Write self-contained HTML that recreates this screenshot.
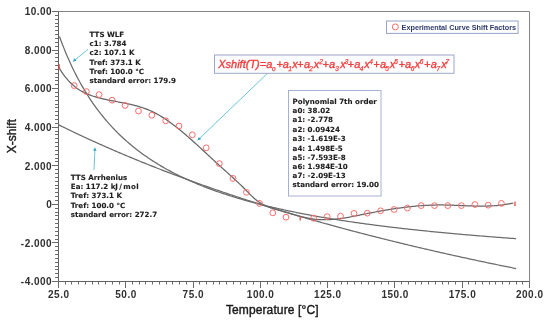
<!DOCTYPE html>
<html><head><meta charset="utf-8"><style>
html,body{margin:0;padding:0;background:#fff;width:550px;height:320px;overflow:hidden}
svg{display:block}
.ax{font-family:"Liberation Sans",Arial,sans-serif;font-weight:bold;font-size:10px;letter-spacing:0.5px;fill:#303030}
.ttl{font-family:"Liberation Sans",Arial,sans-serif;font-weight:normal;font-size:11.5px;fill:#1a1a1a;stroke:#1a1a1a;stroke-width:0.4px}
.blk{font-family:"DejaVu Sans",Verdana,sans-serif;font-weight:bold;font-size:7.1px;fill:#1e1e1e;stroke:#1e1e1e;stroke-width:0.12px}
.eq{font-family:"Liberation Sans",Arial,sans-serif;font-style:italic;font-size:11px;fill:#f53c3c;stroke:#f53c3c;stroke-width:0.35px}
.eq .sm{font-size:6.5px;stroke-width:0.25px}
.leg{font-family:"Liberation Sans",Arial,sans-serif;font-weight:bold;font-size:7.25px;fill:#2d3a6a}
</style></head><body>
<svg width="550" height="320" viewBox="0 0 550 320">
<rect width="550" height="320" fill="#fff"/>
<!-- frame -->
<path d="M58.5,11.5H529.5V281.5" fill="none" stroke="#858585" stroke-width="1"/><path d="M529.5,281.5H58.5V11.5" fill="none" stroke="#606060" stroke-width="1"/>
<path d="M52,281.50H58.5M55,277.50H58.5M55,273.50H58.5M55,269.50H58.5M55,266.50H58.5M55,262.50H58.5M55,258.50H58.5M55,254.50H58.5M55,250.50H58.5M55,246.50H58.5M52,242.50H58.5M55,239.50H58.5M55,235.50H58.5M55,231.50H58.5M55,227.50H58.5M55,223.50H58.5M55,219.50H58.5M55,215.50H58.5M55,212.50H58.5M55,208.50H58.5M52,204.50H58.5M55,200.50H58.5M55,196.50H58.5M55,192.50H58.5M55,188.50H58.5M55,185.50H58.5M55,181.50H58.5M55,177.50H58.5M55,173.50H58.5M55,169.50H58.5M52,165.50H58.5M55,161.50H58.5M55,158.50H58.5M55,154.50H58.5M55,150.50H58.5M55,146.50H58.5M55,142.50H58.5M55,138.50H58.5M55,134.50H58.5M55,131.50H58.5M52,127.50H58.5M55,123.50H58.5M55,119.50H58.5M55,115.50H58.5M55,111.50H58.5M55,107.50H58.5M55,104.50H58.5M55,100.50H58.5M55,96.50H58.5M55,92.50H58.5M52,88.50H58.5M55,84.50H58.5M55,80.50H58.5M55,77.50H58.5M55,73.50H58.5M55,69.50H58.5M55,65.50H58.5M55,61.50H58.5M55,57.50H58.5M55,53.50H58.5M52,50.50H58.5M55,46.50H58.5M55,42.50H58.5M55,38.50H58.5M55,34.50H58.5M55,30.50H58.5M55,26.50H58.5M55,23.50H58.5M55,19.50H58.5M55,15.50H58.5M52,11.50H58.5M58.50,281.5V288M65.50,281.5V284.5M71.50,281.5V284.5M78.50,281.5V284.5M85.50,281.5V284.5M92.50,281.5V284.5M98.50,281.5V284.5M105.50,281.5V284.5M112.50,281.5V284.5M119.50,281.5V284.5M125.50,281.5V288M132.50,281.5V284.5M139.50,281.5V284.5M145.50,281.5V284.5M152.50,281.5V284.5M159.50,281.5V284.5M166.50,281.5V284.5M172.50,281.5V284.5M179.50,281.5V284.5M186.50,281.5V284.5M193.50,281.5V288M199.50,281.5V284.5M206.50,281.5V284.5M213.50,281.5V284.5M219.50,281.5V284.5M226.50,281.5V284.5M233.50,281.5V284.5M240.50,281.5V284.5M246.50,281.5V284.5M253.50,281.5V284.5M260.50,281.5V288M267.50,281.5V284.5M273.50,281.5V284.5M280.50,281.5V284.5M287.50,281.5V284.5M294.50,281.5V284.5M300.50,281.5V284.5M307.50,281.5V284.5M314.50,281.5V284.5M320.50,281.5V284.5M327.50,281.5V288M334.50,281.5V284.5M341.50,281.5V284.5M347.50,281.5V284.5M354.50,281.5V284.5M361.50,281.5V284.5M368.50,281.5V284.5M374.50,281.5V284.5M381.50,281.5V284.5M388.50,281.5V284.5M394.50,281.5V288M401.50,281.5V284.5M408.50,281.5V284.5M415.50,281.5V284.5M421.50,281.5V284.5M428.50,281.5V284.5M435.50,281.5V284.5M442.50,281.5V284.5M448.50,281.5V284.5M455.50,281.5V284.5M462.50,281.5V288M468.50,281.5V284.5M475.50,281.5V284.5M482.50,281.5V284.5M489.50,281.5V284.5M495.50,281.5V284.5M502.50,281.5V284.5M509.50,281.5V284.5M516.50,281.5V284.5M522.50,281.5V284.5M529.50,281.5V288" stroke="#6a6a6a" stroke-width="1" fill="none"/>
<g class="ax">
<text x="52.2" y="15.30" text-anchor="end">10.00</text>
<text x="52.2" y="53.87" text-anchor="end">8.000</text>
<text x="52.2" y="92.44" text-anchor="end">6.000</text>
<text x="52.2" y="131.01" text-anchor="end">4.000</text>
<text x="52.2" y="169.59" text-anchor="end">2.000</text>
<text x="52.2" y="208.16" text-anchor="end">0</text>
<text x="52.2" y="246.73" text-anchor="end">-2.000</text>
<text x="52.2" y="285.30" text-anchor="end">-4.000</text>
<text x="58.75" y="297.9" text-anchor="middle">25.0</text>
<text x="126.04" y="297.9" text-anchor="middle">50.0</text>
<text x="193.32" y="297.9" text-anchor="middle">75.0</text>
<text x="260.61" y="297.9" text-anchor="middle">100.0</text>
<text x="327.89" y="297.9" text-anchor="middle">125.0</text>
<text x="395.18" y="297.9" text-anchor="middle">150.0</text>
<text x="462.46" y="297.9" text-anchor="middle">175.0</text>
<text x="529.75" y="297.9" text-anchor="middle">200.0</text>
</g>
<text class="ttl" x="225.9" y="313.6" style="font-size:12px;letter-spacing:0.12px">Temperature [°C]</text>
<text class="ttl" transform="translate(15.6,153.2) rotate(-90)" x="0" y="0" style="font-size:12px">X-shift</text>
<!-- curves -->
<g fill="none" stroke="#6c6c6c" stroke-width="1.25">
<polyline points="59.44,36.48 59.85,37.58 61.19,41.21 62.54,44.72 63.88,48.13 65.23,51.44 66.57,54.66 67.92,57.79 69.27,60.83 70.61,63.79 71.96,66.66 73.30,69.47 74.65,72.19 75.99,74.85 77.34,77.44 78.69,79.96 80.03,82.43 81.38,84.83 82.72,87.17 84.07,89.45 85.41,91.68 86.76,93.86 88.11,95.99 89.45,98.07 90.80,100.10 92.14,102.09 93.49,104.03 94.83,105.93 96.18,107.79 97.53,109.61 98.87,111.39 100.22,113.14 101.56,114.84 102.91,116.51 104.25,118.15 105.60,119.76 106.95,121.33 108.29,122.87 109.64,124.38 110.98,125.86 112.33,127.32 113.67,128.74 115.02,130.14 116.37,131.52 117.71,132.86 119.06,134.19 120.40,135.49 121.75,136.76 123.09,138.01 124.44,139.25 125.79,140.45 127.13,141.64 128.48,142.81 129.82,143.96 131.17,145.09 132.51,146.20 133.86,147.29 135.21,148.36 136.55,149.42 137.90,150.45 139.24,151.48 140.59,152.48 141.93,153.47 143.28,154.44 144.63,155.40 145.97,156.35 147.32,157.28 148.66,158.19 150.01,159.09 151.35,159.98 152.70,160.85 154.05,161.72 155.39,162.56 156.74,163.40 158.08,164.22 159.43,165.04 160.77,165.84 162.12,166.63 163.47,167.41 164.81,168.17 166.16,168.93 167.50,169.68 168.85,170.41 170.19,171.14 171.54,171.86 172.89,172.56 174.23,173.26 175.58,173.95 176.92,174.63 178.27,175.30 179.61,175.96 180.96,176.61 182.31,177.26 183.65,177.90 185.00,178.52 186.34,179.15 187.69,179.76 189.03,180.36 190.38,180.96 191.73,181.55 193.07,182.14 194.42,182.71 195.76,183.28 197.11,183.84 198.45,184.40 199.80,184.95 201.15,185.49 202.49,186.03 203.84,186.56 205.18,187.08 206.53,187.60 207.87,188.11 209.22,188.62 210.57,189.12 211.91,189.61 213.26,190.10 214.60,190.59 215.95,191.07 217.29,191.54 218.64,192.01 219.99,192.47 221.33,192.93 222.68,193.38 224.02,193.83 225.37,194.28 226.71,194.71 228.06,195.15 229.41,195.58 230.75,196.00 232.10,196.42 233.44,196.84 234.79,197.25 236.13,197.66 237.48,198.07 238.83,198.47 240.17,198.86 241.52,199.25 242.86,199.64 244.21,200.03 245.55,200.41 246.90,200.78 248.25,201.16 249.59,201.53 250.94,201.89 252.28,202.25 253.63,202.61 254.97,202.97 256.32,203.32 257.67,203.67 259.01,204.01 260.36,204.36 261.70,204.70 263.05,205.03 264.39,205.37 265.74,205.69 267.09,206.02 268.43,206.35 269.78,206.67 271.12,206.98 272.47,207.30 273.81,207.61 275.16,207.92 276.51,208.23 277.85,208.53 279.20,208.83 280.54,209.13 281.89,209.43 283.23,209.72 284.58,210.01 285.93,210.30 287.27,210.59 288.62,210.87 289.96,211.15 291.31,211.43 292.65,211.71 294.00,211.98 295.35,212.26 296.69,212.53 298.04,212.79 299.38,213.06 300.73,213.32 302.07,213.58 303.42,213.84 304.77,214.10 306.11,214.35 307.46,214.61 308.80,214.86 310.15,215.11 311.49,215.35 312.84,215.60 314.19,215.84 315.53,216.08 316.88,216.32 318.22,216.56 319.57,216.79 320.91,217.03 322.26,217.26 323.61,217.49 324.95,217.72 326.30,217.94 327.64,218.17 328.99,218.39 330.33,218.61 331.68,218.83 333.03,219.05 334.37,219.27 335.72,219.48 337.06,219.70 338.41,219.91 339.75,220.12 341.10,220.33 342.45,220.53 343.79,220.74 345.14,220.94 346.48,221.15 347.83,221.35 349.17,221.55 350.52,221.75 351.87,221.94 353.21,222.14 354.56,222.33 355.90,222.52 357.25,222.72 358.59,222.91 359.94,223.10 361.29,223.28 362.63,223.47 363.98,223.65 365.32,223.84 366.67,224.02 368.01,224.20 369.36,224.38 370.71,224.56 372.05,224.74 373.40,224.91 374.74,225.09 376.09,225.26 377.43,225.44 378.78,225.61 380.13,225.78 381.47,225.95 382.82,226.12 384.16,226.28 385.51,226.45 386.85,226.61 388.20,226.78 389.55,226.94 390.89,227.10 392.24,227.26 393.58,227.42 394.93,227.58 396.27,227.74 397.62,227.90 398.97,228.05 400.31,228.21 401.66,228.36 403.00,228.52 404.35,228.67 405.69,228.82 407.04,228.97 408.39,229.12 409.73,229.27 411.08,229.41 412.42,229.56 413.77,229.71 415.11,229.85 416.46,229.99 417.81,230.14 419.15,230.28 420.50,230.42 421.84,230.56 423.19,230.70 424.53,230.84 425.88,230.98 427.23,231.11 428.57,231.25 429.92,231.39 431.26,231.52 432.61,231.65 433.95,231.79 435.30,231.92 436.65,232.05 437.99,232.18 439.34,232.31 440.68,232.44 442.03,232.57 443.37,232.70 444.72,232.82 446.07,232.95 447.41,233.08 448.76,233.20 450.10,233.33 451.45,233.45 452.79,233.57 454.14,233.69 455.49,233.82 456.83,233.94 458.18,234.06 459.52,234.18 460.87,234.30 462.21,234.41 463.56,234.53 464.91,234.65 466.25,234.76 467.60,234.88 468.94,234.99 470.29,235.11 471.63,235.22 472.98,235.34 474.33,235.45 475.67,235.56 477.02,235.67 478.36,235.78 479.71,235.89 481.05,236.00 482.40,236.11 483.75,236.22 485.09,236.33 486.44,236.44 487.78,236.54 489.13,236.65 490.47,236.75 491.82,236.86 493.17,236.96 494.51,237.07 495.86,237.17 497.20,237.27 498.55,237.38 499.89,237.48 501.24,237.58 502.59,237.68 503.93,237.78 505.28,237.88 506.62,237.98 507.97,238.08 509.31,238.18 510.66,238.27 512.01,238.37 513.35,238.47 514.70,238.57 516.04,238.66"/>
<polyline points="58.50,124.76 59.85,125.43 61.19,126.09 62.54,126.75 63.88,127.40 65.23,128.06 66.57,128.71 67.92,129.36 69.27,130.01 70.61,130.65 71.96,131.29 73.30,131.94 74.65,132.58 75.99,133.21 77.34,133.85 78.69,134.48 80.03,135.11 81.38,135.74 82.72,136.37 84.07,136.99 85.41,137.61 86.76,138.23 88.11,138.85 89.45,139.47 90.80,140.08 92.14,140.70 93.49,141.31 94.83,141.92 96.18,142.52 97.53,143.13 98.87,143.73 100.22,144.33 101.56,144.93 102.91,145.53 104.25,146.12 105.60,146.72 106.95,147.31 108.29,147.90 109.64,148.49 110.98,149.07 112.33,149.66 113.67,150.24 115.02,150.82 116.37,151.40 117.71,151.98 119.06,152.55 120.40,153.12 121.75,153.70 123.09,154.27 124.44,154.83 125.79,155.40 127.13,155.96 128.48,156.53 129.82,157.09 131.17,157.65 132.51,158.20 133.86,158.76 135.21,159.31 136.55,159.87 137.90,160.42 139.24,160.97 140.59,161.51 141.93,162.06 143.28,162.60 144.63,163.15 145.97,163.69 147.32,164.23 148.66,164.76 150.01,165.30 151.35,165.83 152.70,166.37 154.05,166.90 155.39,167.43 156.74,167.96 158.08,168.48 159.43,169.01 160.77,169.53 162.12,170.05 163.47,170.57 164.81,171.09 166.16,171.61 167.50,172.12 168.85,172.64 170.19,173.15 171.54,173.66 172.89,174.17 174.23,174.68 175.58,175.18 176.92,175.69 178.27,176.19 179.61,176.69 180.96,177.20 182.31,177.69 183.65,178.19 185.00,178.69 186.34,179.18 187.69,179.68 189.03,180.17 190.38,180.66 191.73,181.15 193.07,181.64 194.42,182.12 195.76,182.61 197.11,183.09 198.45,183.57 199.80,184.05 201.15,184.53 202.49,185.01 203.84,185.49 205.18,185.96 206.53,186.44 207.87,186.91 209.22,187.38 210.57,187.85 211.91,188.32 213.26,188.79 214.60,189.25 215.95,189.72 217.29,190.18 218.64,190.64 219.99,191.11 221.33,191.56 222.68,192.02 224.02,192.48 225.37,192.94 226.71,193.39 228.06,193.84 229.41,194.30 230.75,194.75 232.10,195.20 233.44,195.64 234.79,196.09 236.13,196.54 237.48,196.98 238.83,197.42 240.17,197.87 241.52,198.31 242.86,198.75 244.21,199.19 245.55,199.62 246.90,200.06 248.25,200.49 249.59,200.93 250.94,201.36 252.28,201.79 253.63,202.22 254.97,202.65 256.32,203.08 257.67,203.51 259.01,203.93 260.36,204.36 261.70,204.78 263.05,205.20 264.39,205.62 265.74,206.04 267.09,206.46 268.43,206.88 269.78,207.30 271.12,207.71 272.47,208.13 273.81,208.54 275.16,208.95 276.51,209.36 277.85,209.77 279.20,210.18 280.54,210.59 281.89,211.00 283.23,211.40 284.58,211.81 285.93,212.21 287.27,212.62 288.62,213.02 289.96,213.42 291.31,213.82 292.65,214.22 294.00,214.61 295.35,215.01 296.69,215.40 298.04,215.80 299.38,216.19 300.73,216.58 302.07,216.98 303.42,217.37 304.77,217.76 306.11,218.14 307.46,218.53 308.80,218.92 310.15,219.30 311.49,219.69 312.84,220.07 314.19,220.45 315.53,220.83 316.88,221.22 318.22,221.59 319.57,221.97 320.91,222.35 322.26,222.73 323.61,223.10 324.95,223.48 326.30,223.85 327.64,224.22 328.99,224.60 330.33,224.97 331.68,225.34 333.03,225.71 334.37,226.08 335.72,226.44 337.06,226.81 338.41,227.17 339.75,227.54 341.10,227.90 342.45,228.27 343.79,228.63 345.14,228.99 346.48,229.35 347.83,229.71 349.17,230.07 350.52,230.42 351.87,230.78 353.21,231.14 354.56,231.49 355.90,231.84 357.25,232.20 358.59,232.55 359.94,232.90 361.29,233.25 362.63,233.60 363.98,233.95 365.32,234.30 366.67,234.65 368.01,234.99 369.36,235.34 370.71,235.68 372.05,236.03 373.40,236.37 374.74,236.71 376.09,237.05 377.43,237.39 378.78,237.73 380.13,238.07 381.47,238.41 382.82,238.75 384.16,239.08 385.51,239.42 386.85,239.75 388.20,240.09 389.55,240.42 390.89,240.75 392.24,241.08 393.58,241.41 394.93,241.74 396.27,242.07 397.62,242.40 398.97,242.73 400.31,243.06 401.66,243.38 403.00,243.71 404.35,244.03 405.69,244.36 407.04,244.68 408.39,245.00 409.73,245.33 411.08,245.65 412.42,245.97 413.77,246.29 415.11,246.60 416.46,246.92 417.81,247.24 419.15,247.56 420.50,247.87 421.84,248.19 423.19,248.50 424.53,248.81 425.88,249.13 427.23,249.44 428.57,249.75 429.92,250.06 431.26,250.37 432.61,250.68 433.95,250.99 435.30,251.30 436.65,251.60 437.99,251.91 439.34,252.22 440.68,252.52 442.03,252.83 443.37,253.13 444.72,253.43 446.07,253.74 447.41,254.04 448.76,254.34 450.10,254.64 451.45,254.94 452.79,255.24 454.14,255.53 455.49,255.83 456.83,256.13 458.18,256.43 459.52,256.72 460.87,257.02 462.21,257.31 463.56,257.60 464.91,257.90 466.25,258.19 467.60,258.48 468.94,258.77 470.29,259.06 471.63,259.35 472.98,259.64 474.33,259.93 475.67,260.22 477.02,260.50 478.36,260.79 479.71,261.08 481.05,261.36 482.40,261.65 483.75,261.93 485.09,262.21 486.44,262.50 487.78,262.78 489.13,263.06 490.47,263.34 491.82,263.62 493.17,263.90 494.51,264.18 495.86,264.46 497.20,264.74 498.55,265.01 499.89,265.29 501.24,265.57 502.59,265.84 503.93,266.12 505.28,266.39 506.62,266.67 507.97,266.94 509.31,267.21 510.66,267.48 512.01,267.75 513.35,268.03 514.70,268.30 516.04,268.57"/>
<polyline points="58.80,67.41 60.30,69.84 61.80,72.12 63.30,74.26 64.80,76.27 66.30,78.15 67.80,79.91 69.30,81.55 70.80,83.07 72.30,84.49 73.80,85.81 75.30,87.04 76.80,88.17 78.30,89.22 79.80,90.18 81.30,91.08 82.80,91.90 84.30,92.67 85.80,93.37 87.30,94.02 88.80,94.63 90.30,95.19 91.80,95.72 93.30,96.22 94.80,96.69 96.30,97.14 97.80,97.56 99.30,97.97 100.80,98.35 102.30,98.72 103.80,99.07 105.30,99.40 106.80,99.73 108.30,100.04 109.80,100.34 111.30,100.63 112.80,100.92 114.30,101.20 115.80,101.48 117.30,101.76 118.80,102.04 120.30,102.32 121.80,102.60 123.30,102.89 124.80,103.18 126.30,103.48 127.80,103.79 129.30,104.12 130.80,104.45 132.30,104.80 133.80,105.17 135.30,105.55 136.80,105.95 138.30,106.37 139.80,106.82 141.30,107.29 142.80,107.78 144.30,108.31 145.80,108.86 147.30,109.44 148.80,110.05 150.30,110.70 151.80,111.38 153.30,112.10 154.80,112.86 156.30,113.65 157.80,114.47 159.30,115.33 160.80,116.22 162.30,117.15 163.80,118.10 165.30,119.08 166.80,120.09 168.30,121.12 169.80,122.19 171.30,123.28 172.80,124.39 174.30,125.52 175.80,126.68 177.30,127.86 178.80,129.06 180.30,130.28 181.80,131.51 183.30,132.77 184.80,134.04 186.30,135.32 187.80,136.62 189.30,137.93 190.80,139.26 192.30,140.59 193.80,141.94 195.30,143.30 196.80,144.66 198.30,146.03 199.80,147.41 201.30,148.79 202.80,150.17 204.30,151.56 205.80,152.95 207.30,154.35 208.80,155.74 210.30,157.13 211.80,158.52 213.30,159.91 214.80,161.29 216.30,162.67 217.80,164.04 219.30,165.40 220.80,166.76 222.30,168.11 223.80,169.46 225.30,170.80 226.80,172.15 228.30,173.50 229.80,174.85 231.30,176.21 232.80,177.57 234.30,178.95 235.80,180.34 237.30,181.74 238.80,183.16 240.30,184.60 241.80,186.05 243.30,187.53 244.80,189.04 246.30,190.57 247.80,192.10 249.30,193.63 250.80,195.13 252.30,196.58 253.80,197.95 255.30,199.25 256.80,200.46 258.30,201.59 259.80,202.62 261.30,203.56 262.80,204.41 264.30,205.19 265.80,205.89 267.30,206.54 268.80,207.12 270.30,207.66 271.80,208.16 273.30,208.63 274.80,209.07 276.30,209.50 277.80,209.92 279.30,210.33 280.80,210.76 282.30,211.19 283.80,211.62 285.30,212.07 286.80,212.51 288.30,212.96 289.80,213.41 291.30,213.85 292.80,214.30 294.30,214.73 295.80,215.16 297.30,215.58 298.80,215.99 300.30,216.39 301.80,216.77 303.30,217.13 304.80,217.48 306.30,217.81 307.80,218.12 309.30,218.40 310.80,218.66 312.30,218.89 313.80,219.09 315.30,219.27 316.80,219.41 318.30,219.53 319.80,219.61 321.30,219.67 322.80,219.71 324.30,219.72 325.80,219.71 327.30,219.67 328.80,219.61 330.30,219.53 331.80,219.44 333.30,219.32 334.80,219.18 336.30,219.03 337.80,218.86 339.30,218.67 340.80,218.47 342.30,218.26 343.80,218.03 345.30,217.79 346.80,217.55 348.30,217.29 349.80,217.02 351.30,216.74 352.80,216.46 354.30,216.17 355.80,215.88 357.30,215.58 358.80,215.28 360.30,214.98 361.80,214.67 363.30,214.37 364.80,214.06 366.30,213.76 367.80,213.46 369.30,213.16 370.80,212.86 372.30,212.57 373.80,212.28 375.30,212.00 376.80,211.71 378.30,211.44 379.80,211.16 381.30,210.89 382.80,210.63 384.30,210.37 385.80,210.11 387.30,209.86 388.80,209.61 390.30,209.37 391.80,209.13 393.30,208.90 394.80,208.67 396.30,208.45 397.80,208.24 399.30,208.03 400.80,207.82 402.30,207.62 403.80,207.43 405.30,207.25 406.80,207.07 408.30,206.89 409.80,206.72 411.30,206.56 412.80,206.41 414.30,206.26 415.80,206.13 417.30,205.99 418.80,205.87 420.30,205.75 421.80,205.64 423.30,205.54 424.80,205.45 426.30,205.36 427.80,205.28 429.30,205.21 430.80,205.15 432.30,205.10 433.80,205.06 435.30,205.02 436.80,204.99 438.30,204.98 439.80,204.97 441.30,204.97 442.80,204.98 444.30,205.00 445.80,205.02 447.30,205.06 448.80,205.09 450.30,205.14 451.80,205.19 453.30,205.24 454.80,205.30 456.30,205.35 457.80,205.41 459.30,205.48 460.80,205.54 462.30,205.60 463.80,205.67 465.30,205.73 466.80,205.79 468.30,205.84 469.80,205.90 471.30,205.94 472.80,205.99 474.30,206.03 475.80,206.06 477.30,206.09 478.80,206.11 480.30,206.12 481.80,206.12 483.30,206.12 484.80,206.10 486.30,206.07 487.80,206.03 489.30,205.98 490.80,205.92 492.30,205.84 493.80,205.75 495.30,205.65 496.80,205.53 498.30,205.39 499.80,205.24 501.30,205.07 502.80,204.88 504.30,204.67 505.80,204.44 507.30,204.20 508.80,203.93 510.30,203.64 511.80,203.33 513.30,203.00" stroke="#666"/>
</g>
<g fill="none" stroke="#ff6b6b" stroke-width="1">
<circle cx="74.2" cy="85.6" r="2.9"/>
<circle cx="86.4" cy="91.6" r="2.9"/>
<circle cx="99.1" cy="94.6" r="2.9"/>
<circle cx="112.1" cy="100.2" r="2.9"/>
<circle cx="125.1" cy="105.5" r="2.9"/>
<circle cx="138.5" cy="111" r="2.9"/>
<circle cx="151.8" cy="115.2" r="2.9"/>
<circle cx="165.7" cy="120.8" r="2.9"/>
<circle cx="179" cy="126" r="2.9"/>
<circle cx="192.3" cy="134.8" r="2.9"/>
<circle cx="206.2" cy="147.8" r="2.9"/>
<circle cx="219.3" cy="163.6" r="2.9"/>
<circle cx="233" cy="178.4" r="2.9"/>
<circle cx="246.4" cy="192.3" r="2.9"/>
<circle cx="259.5" cy="203.4" r="2.9"/>
<circle cx="272.8" cy="212.8" r="2.9"/>
<circle cx="286" cy="217.2" r="2.9"/>
<circle cx="313.6" cy="218.2" r="2.9"/>
<circle cx="327.2" cy="216.7" r="2.9"/>
<circle cx="340.5" cy="216.2" r="2.9"/>
<circle cx="354" cy="213.4" r="2.9"/>
<circle cx="367.3" cy="213.2" r="2.9"/>
<circle cx="380.6" cy="210.8" r="2.9"/>
<circle cx="394.1" cy="209.5" r="2.9"/>
<circle cx="407.4" cy="208.1" r="2.9"/>
<circle cx="421.2" cy="205.6" r="2.9"/>
<circle cx="434.5" cy="205.6" r="2.9"/>
<circle cx="447.8" cy="205.6" r="2.9"/>
<circle cx="461.4" cy="205.6" r="2.9"/>
<circle cx="474.9" cy="204.5" r="2.9"/>
<circle cx="488.2" cy="205.2" r="2.9"/>
<circle cx="501.4" cy="203.4" r="2.9"/>
</g>
<path d="M59.2,64.3V69.6M300.2,216.2V220.6M515,201.5V206" stroke="#f04848" stroke-width="1.3"/>
<line x1="87.9" y1="49.4" x2="75.10" y2="59.84" stroke="#55c0d6" stroke-width="0.9"/><path d="M72.7,61.8L74.41,58.21L76.56,60.84Z" fill="#2aa6bd"/><line x1="94.0" y1="170.0" x2="94.86" y2="150.30" stroke="#55c0d6" stroke-width="0.9"/><path d="M95.0,147.2L96.54,150.87L93.14,150.72Z" fill="#2aa6bd"/><line x1="267.3" y1="73.5" x2="199.64" y2="138.45" stroke="#55c0d6" stroke-width="0.9"/><path d="M197.4,140.6L198.82,136.88L201.17,139.33Z" fill="#2aa6bd"/>
<!-- blocks -->
<g class="blk">
<text x="89.6" y="36.90">TTS WLF</text>
<text x="89.6" y="45.90">c1: 3.784</text>
<text x="89.6" y="55.20">c2: 107.1 K</text>
<text x="89.6" y="64.80">Tref: 373.1 K</text>
<text x="89.6" y="73.80">Tref: 100.0 °C</text>
<text x="89.6" y="82.80">standard error: 179.9</text>
<text x="70.8" y="180.20">TTS Arrhenius</text>
<text x="70.8" y="189.20">Ea: 117.2 kJ<tspan dx="1.2">/</tspan><tspan dx="1.4" style="letter-spacing:0.35px">mol</tspan></text>
<text x="70.8" y="198.30">Tref: 373.1 K</text>
<text x="70.8" y="207.70">Tref: 100.0 °C</text>
<text x="70.8" y="217.20">standard error: 272.7</text>
</g>
<rect x="288.5" y="90.5" width="92.5" height="105.5" fill="#fff" stroke="#a6b0d4" stroke-width="1"/>
<g class="blk">
<text x="292.6" y="103.70">Polynomial 7th order</text>
<text x="292.6" y="113.00">a0: 38.02</text>
<text x="292.6" y="122.30">a1: -2.778</text>
<text x="292.6" y="131.70">a2: 0.09424</text>
<text x="292.6" y="140.70">a3: -1.619E-3</text>
<text x="292.6" y="150.80">a4: 1.498E-5</text>
<text x="292.6" y="160.00">a5: -7.593E-8</text>
<text x="292.6" y="169.30">a6: 1.984E-10</text>
<text x="292.6" y="178.30">a7: -2.09E-13</text>
<text x="292.6" y="187.30">standard error: 19.00</text>
</g>
<!-- equation -->
<rect x="214.5" y="55" width="239.5" height="18.3" fill="#fff" stroke="#9aa6c8" stroke-width="1"/>
<g class="eq"><text x="218.21" y="67.9">Xshift(T)=</text><text x="266.16" y="67.9">a</text><text class="sm" x="271.99" y="70.6">o</text><text x="276.51" y="67.9">+</text><text x="282.66" y="67.9">a</text><text class="sm" x="288.23" y="70.6">1</text><text x="292.14" y="67.9">x</text><text x="296.91" y="67.9">+</text><text x="303.96" y="67.9">a</text><text class="sm" x="309.34" y="70.6">2</text><text x="313.74" y="67.9">x</text><text class="sm" x="319.14" y="64.3">2</text><text x="322.41" y="67.9">+</text><text x="329.06" y="67.9">a</text><text class="sm" x="335.15" y="70.6">3</text><text x="340.24" y="67.9">x</text><text class="sm" x="344.75" y="64.3">3</text><text x="347.51" y="67.9">+</text><text x="354.16" y="67.9">a</text><text class="sm" x="359.76" y="70.6">4</text><text x="364.24" y="67.9">x</text><text class="sm" x="369.26" y="64.3">4</text><text x="373.31" y="67.9">+</text><text x="379.96" y="67.9">a</text><text class="sm" x="385.16" y="70.6">5</text><text x="389.74" y="67.9">x</text><text class="sm" x="394.26" y="64.3">5</text><text x="398.41" y="67.9">+</text><text x="405.06" y="67.9">a</text><text class="sm" x="410.74" y="70.6">6</text><text x="414.84" y="67.9">x</text><text class="sm" x="419.74" y="64.3">6</text><text x="424.11" y="67.9">+</text><text x="430.76" y="67.9">a</text><text class="sm" x="436.42" y="70.6">7</text><text x="441.34" y="67.9">x</text><text class="sm" x="445.42" y="64.3">7</text></g>
<!-- legend -->
<rect x="386.5" y="21" width="131.6" height="12.4" fill="#fff" stroke="#98a3ca" stroke-width="1"/>
<circle cx="395.3" cy="26.9" r="3" fill="none" stroke="#ff6b6b" stroke-width="1"/>
<text class="leg" x="401.6" y="29.7">Experimental Curve Shift Factors</text>
</svg>
</body></html>
